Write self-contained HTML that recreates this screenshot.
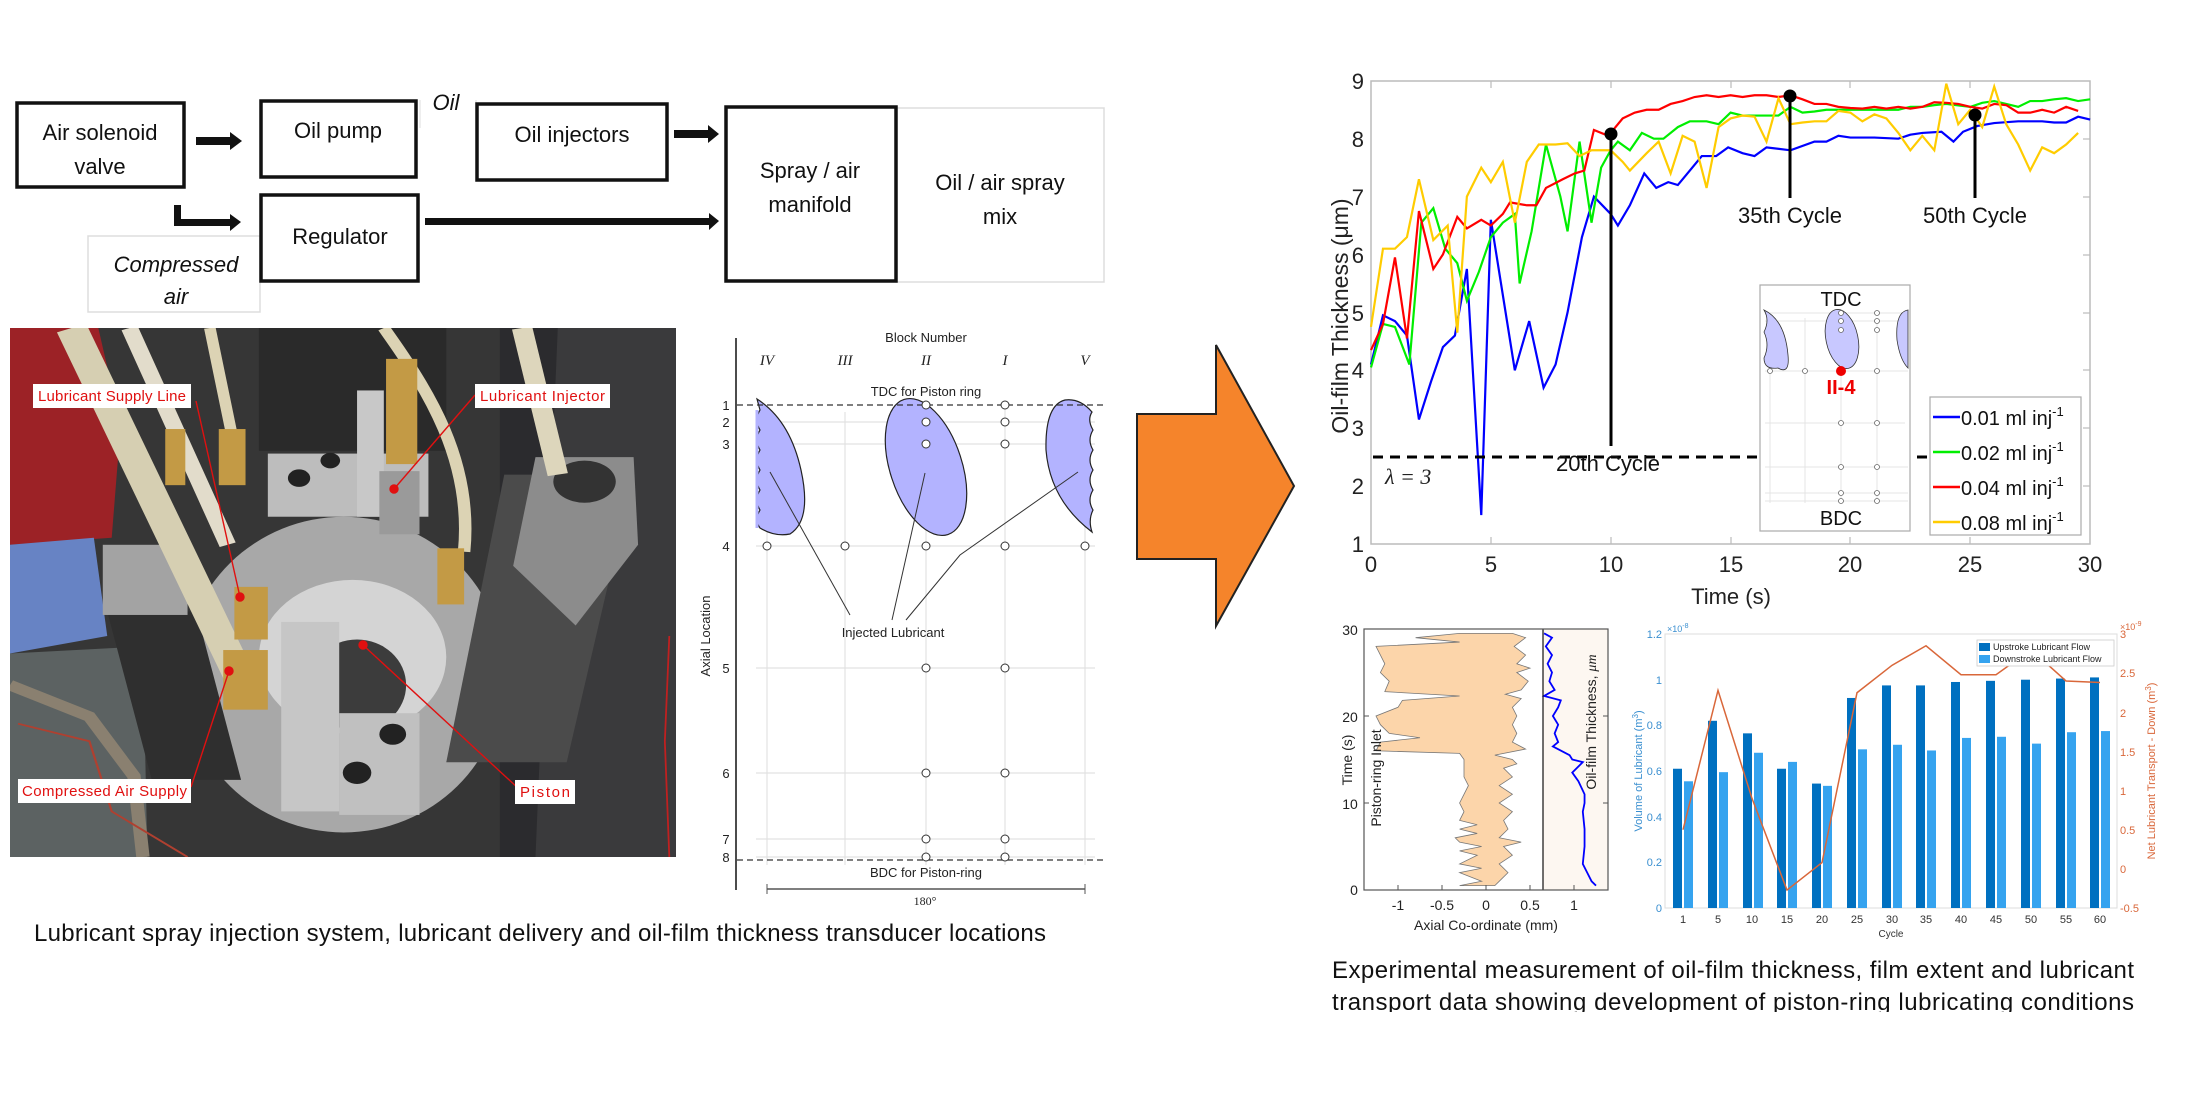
<!DOCTYPE html>
<html><head><meta charset="utf-8"><style>
html,body{margin:0;padding:0;background:#fff;}
svg{display:block;font-family:"Liberation Sans",sans-serif;}
</style></head><body>
<svg width="2200" height="1120" viewBox="0 0 2200 1120" xmlns="http://www.w3.org/2000/svg">
<rect width="2200" height="1120" fill="#fff"/>

<!-- ===== Flow diagram ===== -->
<g font-size="22" fill="#111" text-anchor="middle">
<rect x="88" y="236" width="172" height="76" fill="#fff" stroke="#ddd" stroke-width="1.5"/>
<text x="176" y="272" font-style="italic">Compressed</text><text x="176" y="304" font-style="italic">air</text>
<rect x="896" y="108" width="208" height="174" fill="#fff" stroke="#ddd" stroke-width="1.5"/>
<text x="1000" y="190">Oil / air spray</text><text x="1000" y="224">mix</text>
<line x1="420" y1="100" x2="420" y2="128" stroke="#ddd"/><line x1="476" y1="100" x2="476" y2="128" stroke="#ddd"/>
<text x="446" y="110" font-style="italic">Oil</text>
<rect x="17" y="103" width="167" height="84" fill="#fff" stroke="#111" stroke-width="3.5"/>
<text x="100" y="140">Air solenoid</text><text x="100" y="174">valve</text>
<rect x="261" y="101" width="155" height="76" fill="#fff" stroke="#111" stroke-width="3.5"/>
<text x="338" y="138">Oil pump</text>
<rect x="477" y="104" width="190" height="76" fill="#fff" stroke="#111" stroke-width="3.5"/>
<text x="572" y="142">Oil injectors</text>
<rect x="726" y="107" width="170" height="174" fill="#fff" stroke="#111" stroke-width="3.5"/>
<text x="810" y="178">Spray / air</text><text x="810" y="212">manifold</text>
<rect x="261" y="195" width="157" height="86" fill="#fff" stroke="#111" stroke-width="3.5"/>
<text x="340" y="244">Regulator</text>
</g>
<g fill="#111">
<rect x="196" y="137" width="34" height="8"/><polygon points="230,132 242,141 230,150"/>
<rect x="174" y="205" width="7" height="21"/><rect x="174" y="219" width="56" height="7"/><polygon points="230,214 241,222 230,231"/>
<rect x="674" y="130" width="34" height="8"/><polygon points="708,125 719,134 708,143"/>
<rect x="425" y="218" width="285" height="7"/><polygon points="709,213 719,221 709,230"/>
</g>

<!-- ===== Photo ===== -->
<svg x="10" y="328" width="666" height="529" viewBox="22 22 1493 1508" preserveAspectRatio="none">
<rect x="22" y="22" width="1493" height="1508" fill="#363636"/>
<rect x="1120" y="22" width="395" height="1508" fill="#2b2b2e"/>
<polygon points="22,22 220,22 270,300 250,620 22,640" fill="#9c2226"/>
<polygon points="22,640 210,620 240,900 22,950" fill="#6783c4"/>
<polygon points="22,950 320,930 330,1530 22,1530" fill="#5c6262"/>
<polygon points="1250,22 1515,22 1515,1530 1200,1530" fill="#3a3a3c"/>
<rect x="580" y="22" width="420" height="350" fill="#2a2a2a"/>
<ellipse cx="770" cy="1010" rx="360" ry="450" fill="#a8a8a8"/>
<ellipse cx="790" cy="960" rx="210" ry="220" fill="#d4d4d4"/>
<ellipse cx="800" cy="1040" rx="110" ry="130" fill="#3c3c3c"/>
<rect x="600" y="380" width="360" height="180" fill="#bdbdbd"/>
<rect x="800" y="200" width="60" height="360" fill="#c8c8c8"/>
<rect x="850" y="430" width="90" height="180" fill="#9a9a9a"/>
<rect x="630" y="860" width="130" height="540" fill="#c6c6c6"/>
<rect x="760" y="1120" width="180" height="290" fill="#c0c0c0"/>
<circle cx="880" cy="1180" r="30" fill="#222"/><circle cx="800" cy="1290" r="32" fill="#222"/>
<circle cx="670" cy="450" r="25" fill="#222"/><circle cx="740" cy="400" r="22" fill="#222"/>
<polygon points="1130,440 1420,440 1270,1260 1000,1260" fill="#4b4b4b"/>
<polygon points="1200,390 1420,390 1430,640 1290,870 1150,700" fill="#8c8c8c"/>
<ellipse cx="1310" cy="460" rx="70" ry="60" fill="#333"/>
<polygon points="240,830 440,830 540,1310 340,1310" fill="#2f2f2f"/>
<rect x="230" y="640" width="190" height="200" fill="#a3a3a3"/>
<polyline points="22,1040 200,1130 300,1300 320,1530" fill="none" stroke="#8a8070" stroke-width="30"/>
<line x1="160" y1="22" x2="560" y2="1080" stroke="#d6cfb2" stroke-width="70"/>
<line x1="290" y1="22" x2="510" y2="640" stroke="#e2dccb" stroke-width="38"/>
<line x1="470" y1="22" x2="520" y2="330" stroke="#dcd3b4" stroke-width="26"/>
<path d="M860,22 C960,200 1060,400 1040,660" fill="none" stroke="#dcd3b4" stroke-width="28"/>
<line x1="1170" y1="22" x2="1250" y2="440" stroke="#ddd6bc" stroke-width="46"/>
<g fill="#c39a45">
<rect x="490" y="310" width="60" height="160"/><rect x="525" y="760" width="75" height="150"/>
<rect x="500" y="940" width="100" height="170"/><rect x="865" y="110" width="70" height="300"/>
<rect x="980" y="650" width="60" height="160"/><rect x="370" y="310" width="45" height="160"/>
</g>
<polyline points="40,1150 200,1200 250,1400 420,1530" fill="none" stroke="#b04030" stroke-width="5"/>
<polyline points="1500,900 1490,1200 1500,1530" fill="none" stroke="#c02020" stroke-width="4"/>
</svg>
<g stroke="#e01010" stroke-width="1.4" fill="#e01010">
<line x1="196" y1="401" x2="240" y2="597"/><circle cx="240" cy="597" r="4"/>
<line x1="475" y1="395" x2="394" y2="489"/><circle cx="394" cy="489" r="4"/>
<line x1="191" y1="787" x2="229" y2="671"/><circle cx="229" cy="671" r="4"/>
<line x1="519" y1="789" x2="363" y2="645"/><circle cx="363" cy="645" r="4"/>
</g>
<g font-size="15" fill="#e01010">
<rect x="33" y="384" width="158" height="24" fill="#fff"/><text x="38" y="401" textLength="148">Lubricant Supply Line</text>
<rect x="475" y="384" width="135" height="24" fill="#fff"/><text x="480" y="401" textLength="125">Lubricant Injector</text>
<rect x="18" y="779" width="173" height="24" fill="#fff"/><text x="22" y="796" textLength="165">Compressed Air Supply</text>
<rect x="515" y="780" width="60" height="24" fill="#fff"/><text x="520" y="797" textLength="50">Piston</text>
</g>

<!-- ===== Transducer schematic ===== -->
<g stroke="#e2e2e2" stroke-width="1.2">
<line x1="767" y1="412" x2="767" y2="865"/><line x1="845" y1="412" x2="845" y2="865"/>
<line x1="926" y1="405" x2="926" y2="865"/><line x1="1005" y1="405" x2="1005" y2="865"/><line x1="1085" y1="412" x2="1085" y2="865"/>
<line x1="756" y1="422" x2="1095" y2="422"/><line x1="756" y1="444" x2="1095" y2="444"/><line x1="756" y1="546" x2="1095" y2="546"/>
<line x1="756" y1="668" x2="1095" y2="668"/><line x1="756" y1="773" x2="1095" y2="773"/><line x1="756" y1="839" x2="1095" y2="839"/><line x1="756" y1="857" x2="1095" y2="857"/>
</g>
<g fill="#b3b3ff" stroke="#222" stroke-width="1.2">
<path d="M757,399 Q790,420 801,470 Q812,520 790,534 Q775,537 760,528 Q754,520 760,510 Q754,500 760,490 Q754,480 760,470 Q754,460 760,450 Q754,440 760,430 Q754,420 760,410 Z"/>
<ellipse cx="926" cy="467" rx="36" ry="71" transform="rotate(-18 926 467)"/>
<path d="M1092,412 Q1080,398 1065,400 Q1045,405 1046,450 Q1050,500 1092,532 Q1088,520 1093,510 Q1087,500 1093,490 Q1087,480 1093,470 Q1087,460 1093,450 Q1087,440 1093,430 Q1087,420 1092,412 Z"/>
</g>
<path d="M757,410 v118" stroke="#b3b3ff" stroke-width="3"/>
<line x1="737" y1="405" x2="1105" y2="405" stroke="#333" stroke-width="1.3" stroke-dasharray="6,4"/>
<line x1="737" y1="860" x2="1105" y2="860" stroke="#333" stroke-width="1.3" stroke-dasharray="6,4"/>
<line x1="736" y1="338" x2="736" y2="890" stroke="#111" stroke-width="1.5"/>
<g fill="none" stroke="#333" stroke-width="1">
<polyline points="770,472 850,615"/><polyline points="925,473 892,620"/><polyline points="1078,472 960,555 906,620"/>
</g>
<g fill="#fff" stroke="#333" stroke-width="1">
<circle cx="926" cy="405" r="4"/><circle cx="1005" cy="405" r="4"/>
<circle cx="926" cy="422" r="4"/><circle cx="1005" cy="422" r="4"/>
<circle cx="926" cy="444" r="4"/><circle cx="1005" cy="444" r="4"/>
<circle cx="767" cy="546" r="4"/><circle cx="845" cy="546" r="4"/><circle cx="926" cy="546" r="4"/><circle cx="1005" cy="546" r="4"/><circle cx="1085" cy="546" r="4"/>
<circle cx="926" cy="668" r="4"/><circle cx="1005" cy="668" r="4"/>
<circle cx="926" cy="773" r="4"/><circle cx="1005" cy="773" r="4"/>
<circle cx="926" cy="839" r="4"/><circle cx="1005" cy="839" r="4"/>
<circle cx="926" cy="857" r="4"/><circle cx="1005" cy="857" r="4"/>
</g>
<g font-size="13" fill="#222" text-anchor="middle">
<text x="926" y="342">Block Number</text>
<g font-family="Liberation Serif,serif" font-style="italic" font-size="15"><text x="767" y="365">IV</text><text x="845" y="365">III</text><text x="926" y="365">II</text><text x="1005" y="365">I</text><text x="1085" y="365">V</text></g>
<text x="926" y="396">TDC for Piston ring</text>
<text x="926" y="877">BDC for Piston-ring</text>
<text x="893" y="637">Injected Lubricant</text>
<text transform="translate(710,636) rotate(-90)">Axial Location</text>
<text x="726" y="410">1</text><text x="726" y="427">2</text><text x="726" y="449">3</text><text x="726" y="551">4</text>
<text x="726" y="673">5</text><text x="726" y="778">6</text><text x="726" y="844">7</text><text x="726" y="862">8</text>
<text x="925" y="905" font-family="Liberation Serif,serif" font-size="12">180°</text>
</g>
<line x1="767" y1="889" x2="1085" y2="889" stroke="#555" stroke-width="1.5"/>
<line x1="767" y1="884" x2="767" y2="894" stroke="#555"/><line x1="1085" y1="884" x2="1085" y2="894" stroke="#555"/>

<text x="34" y="941" font-size="24" fill="#111" textLength="1012">Lubricant spray injection system, lubricant delivery and oil-film thickness transducer locations</text>

<!-- ===== Orange arrow ===== -->
<polygon points="1137,414 1216,414 1216,345 1294,486 1216,626 1216,559 1137,559" fill="#f5842b" stroke="#222" stroke-width="2"/>

<!-- ===== Main chart ===== -->
<rect x="1371" y="81" width="719" height="463" fill="#fff" stroke="#bbb" stroke-width="1.5"/>
<g stroke="#bbb" stroke-width="1.2">
<line x1="1491" y1="544" x2="1491" y2="537"/><line x1="1611" y1="544" x2="1611" y2="537"/><line x1="1731" y1="544" x2="1731" y2="537"/><line x1="1850" y1="544" x2="1850" y2="537"/><line x1="1970" y1="544" x2="1970" y2="537"/>
<line x1="1491" y1="81" x2="1491" y2="88"/><line x1="1611" y1="81" x2="1611" y2="88"/><line x1="1731" y1="81" x2="1731" y2="88"/><line x1="1850" y1="81" x2="1850" y2="88"/><line x1="1970" y1="81" x2="1970" y2="88"/>
<line x1="2090" y1="139" x2="2083" y2="139"/><line x1="2090" y1="197" x2="2083" y2="197"/><line x1="2090" y1="255" x2="2083" y2="255"/><line x1="2090" y1="313" x2="2083" y2="313"/><line x1="2090" y1="370" x2="2083" y2="370"/><line x1="2090" y1="428" x2="2083" y2="428"/><line x1="2090" y1="486" x2="2083" y2="486"/>
</g>
<g font-size="22" fill="#222" text-anchor="middle">
<text x="1371" y="572">0</text><text x="1491" y="572">5</text><text x="1611" y="572">10</text><text x="1731" y="572">15</text><text x="1850" y="572">20</text><text x="1970" y="572">25</text><text x="2090" y="572">30</text>
<text x="1731" y="604">Time (s)</text>
</g>
<g font-size="22" fill="#222" text-anchor="end">
<text x="1364" y="552">1</text><text x="1364" y="494">2</text><text x="1364" y="436">3</text><text x="1364" y="378">4</text><text x="1364" y="321">5</text><text x="1364" y="263">6</text><text x="1364" y="205">7</text><text x="1364" y="147">8</text><text x="1364" y="89">9</text>
</g>
<text transform="translate(1348,316) rotate(-90)" font-size="23" fill="#222" text-anchor="middle">Oil-film Thickness (μm)</text>

<g transform="translate(1371,544) scale(23.97,-57.9) translate(0,-1)" fill="none" stroke-width="2.2">
<polyline vector-effect="non-scaling-stroke" stroke="#0000ff" points="0,4.1 0.5,4.95 1,4.85 1.5,4.6 2,3.15 2.5,3.8 3,4.4 3.5,4.6 4,5.75 4.6,1.5 5,6.6 6,4 6.6,4.85 7.2,3.7 7.7,4.1 8.2,5 8.8,6.3 9.3,7 10,6.7 10.3,6.5 10.8,6.85 11.4,7.4 11.9,7.15 12.4,7.25 12.8,7.2 13.4,7.5 13.8,7.7 14.4,7.7 14.9,7.85 15.5,7.75 16,7.7 16.5,7.85 17.5,7.8 18.5,7.95 19,7.95 19.5,8.05 20,8.02 21,8.02 22,8 22.5,8.07 23,8.1 23.8,8.12 24.3,7.95 24.7,8.12 25.3,8.22 26,8.27 27,8.3 28,8.3 28.5,8.28 29,8.28 29.5,8.38 30,8.33"/>
<polyline vector-effect="non-scaling-stroke" stroke="#00ee00" points="0,4.05 0.5,4.8 1,4.75 1.6,4.1 2.1,6.55 2.6,6.8 3.1,6.1 3.6,5.85 4,5.2 4.5,5.7 5,6.3 5.5,6.55 6,6.7 6.2,5.5 6.7,6.4 7.3,7.9 7.9,7 8.2,6.4 8.7,7.95 9.2,6.55 9.6,7.5 10,7.8 10.3,7.95 10.8,7.8 11.3,8.1 11.8,8 12.2,8 12.8,8.2 13.3,8.3 14,8.3 14.5,8.25 15,8.45 15.5,8.4 16,8.4 16.5,8.4 17,8.4 17.5,8.55 18,8.45 18.5,8.47 19,8.5 20,8.5 21,8.5 22,8.5 22.5,8.55 23,8.55 23.5,8.58 24,8.6 25,8.55 25.5,8.62 26,8.65 26.5,8.6 27,8.55 27.5,8.65 28,8.65 28.5,8.68 29,8.7 29.5,8.65 30,8.68"/>
<polyline vector-effect="non-scaling-stroke" stroke="#ff0000" points="0,4.35 0.5,4.8 1,5.95 1.5,4.55 2,6.75 2.6,5.75 3,6 3.6,6.65 4,6.45 4.6,6.6 5,6.5 5.5,6.7 5.8,6.9 6.5,6.85 6.9,6.85 7.3,7.15 8,7.3 8.5,7.4 8.9,7.45 9.3,8.15 9.9,8.05 10.5,8.35 11,8.45 11.5,8.5 12,8.5 12.5,8.6 13,8.65 13.5,8.72 14,8.75 14.5,8.72 15,8.75 15.5,8.72 16,8.75 16.5,8.75 17,8.72 17.5,8.75 18,8.68 18.5,8.6 19,8.6 19.5,8.55 20,8.53 20.5,8.52 21,8.55 21.5,8.52 22,8.55 22.5,8.52 23,8.55 23.5,8.63 24,8.62 24.5,8.6 25,8.55 25.5,8.52 26,8.6 26.5,8.58 27,8.45 27.5,8.45 28,8.5 28.5,8.45 29,8.55 29.5,8.48"/>
<polyline vector-effect="non-scaling-stroke" stroke="#ffcc00" points="0,4.75 0.5,6.1 1,6.1 1.5,6.3 2,7.3 2.6,6.25 3.2,6.5 3.6,4.65 4,7 4.6,7.5 5,7.25 5.5,7.6 6,6.55 6.5,7.6 7,7.9 7.7,7.9 8.2,7.92 8.7,7.7 9.2,7.8 10,7.8 10.5,7.6 10.8,7.45 11.5,7.75 12,7.95 12.5,7.4 13,8.05 13.5,7.95 14,7.15 14.5,8.2 15,8.35 15.5,8.4 16,8.38 16.5,7.95 17,8.7 17.5,8.25 18,8.28 18.5,8.3 19,8.3 19.5,8.48 20,8.45 20.5,8.3 21,8.42 21.5,8.35 22,8.1 22.5,7.8 23,8.05 23.5,7.8 24,8.95 24.5,8.25 25,8.5 25.5,8.2 26,8.9 26.5,8.25 27,7.9 27.5,7.45 28,7.85 28.5,7.75 29,7.9 29.5,8.1"/>
</g>
<line x1="1373" y1="457" x2="1930" y2="457" stroke="#000" stroke-width="3" stroke-dasharray="10,7"/>
<text x="1385" y="484" font-family="Liberation Serif,serif" font-style="italic" font-size="22" fill="#222">λ = 3</text>
<g stroke="#000" stroke-width="3">
<line x1="1611" y1="134" x2="1611" y2="446"/><line x1="1790" y1="96" x2="1790" y2="198"/><line x1="1975" y1="115" x2="1975" y2="198"/>
</g>
<g fill="#000"><circle cx="1611" cy="134" r="6.5"/><circle cx="1790" cy="96" r="6.5"/><circle cx="1975" cy="115" r="6.5"/></g>
<g font-size="22" fill="#111" text-anchor="middle">
<text x="1608" y="471">20th Cycle</text><text x="1790" y="223">35th Cycle</text><text x="1975" y="223">50th Cycle</text>
</g>
<!-- inset -->
<rect x="1760" y="285" width="150" height="246" fill="#fff" stroke="#aaa" stroke-width="1.2"/>
<g stroke="#e4e4e4" stroke-width="1">
<line x1="1765" y1="313" x2="1908" y2="313"/><line x1="1765" y1="321" x2="1908" y2="321"/><line x1="1765" y1="371" x2="1908" y2="371"/><line x1="1765" y1="423" x2="1905" y2="423"/><line x1="1765" y1="467" x2="1908" y2="467"/><line x1="1765" y1="493" x2="1908" y2="493"/><line x1="1765" y1="501" x2="1908" y2="501"/>
<line x1="1805" y1="318" x2="1805" y2="503"/><line x1="1841" y1="318" x2="1841" y2="503"/><line x1="1877" y1="318" x2="1877" y2="503"/><line x1="1770" y1="350" x2="1770" y2="503"/>
</g>
<g fill="#c8c8ff" stroke="#333" stroke-width="0.8">
<path d="M1764,310 Q1785,320 1788,355 Q1790,375 1778,368 Q1764,370 1764,358 Q1770,345 1764,332 Q1770,320 1764,310Z"/>
<ellipse cx="1842" cy="339" rx="16" ry="30" transform="rotate(-12 1842 339)"/>
<path d="M1908,310 Q1895,312 1897,340 Q1900,360 1908,368Z"/>
</g>
<g fill="#fff" stroke="#666" stroke-width="0.8">
<circle cx="1841" cy="313" r="2.5"/><circle cx="1877" cy="313" r="2.5"/><circle cx="1841" cy="321" r="2.5"/><circle cx="1877" cy="321" r="2.5"/><circle cx="1841" cy="330" r="2.5"/><circle cx="1877" cy="330" r="2.5"/>
<circle cx="1770" cy="371" r="2.5"/><circle cx="1805" cy="371" r="2.5"/><circle cx="1877" cy="371" r="2.5"/>
<circle cx="1841" cy="423" r="2.5"/><circle cx="1877" cy="423" r="2.5"/><circle cx="1841" cy="467" r="2.5"/><circle cx="1877" cy="467" r="2.5"/>
<circle cx="1841" cy="493" r="2.5"/><circle cx="1877" cy="493" r="2.5"/><circle cx="1841" cy="501" r="2.5"/><circle cx="1877" cy="501" r="2.5"/>
</g>
<circle cx="1841" cy="371" r="5" fill="#e00"/>
<g font-size="20" text-anchor="middle">
<text x="1841" y="306" fill="#111">TDC</text><text x="1841" y="394" fill="#e00" font-weight="bold">II-4</text><text x="1841" y="525" fill="#111">BDC</text>
</g>
<!-- legend -->
<rect x="1930" y="397" width="151" height="138" fill="#fff" stroke="#aaa" stroke-width="1.2"/>
<g stroke-width="2.5"><line x1="1933" y1="417" x2="1960" y2="417" stroke="#00f"/><line x1="1933" y1="452" x2="1960" y2="452" stroke="#0e0"/><line x1="1933" y1="487" x2="1960" y2="487" stroke="#f00"/><line x1="1933" y1="522" x2="1960" y2="522" stroke="#fc0"/></g>
<g font-size="20" fill="#111">
<text x="1961" y="425">0.01 ml inj<tspan font-size="13" dy="-9">-1</tspan></text>
<text x="1961" y="460">0.02 ml inj<tspan font-size="13" dy="-9">-1</tspan></text>
<text x="1961" y="495">0.04 ml inj<tspan font-size="13" dy="-9">-1</tspan></text>
<text x="1961" y="530">0.08 ml inj<tspan font-size="13" dy="-9">-1</tspan></text>
</g>

<!-- ===== Bottom-left film extent ===== -->
<rect x="1543" y="629" width="65" height="261" fill="#fdf7f1"/>
<polygon fill="#fcd5aa" stroke="#777" stroke-width="0.8" transform="translate(1486,890) scale(88,-8.7)" vector-effect="non-scaling-stroke" points="-0.3,0.5 -0.05,1 -0.3,2 -0.05,2.5 -0.3,3 -0.1,4 -0.3,4.5 -0.05,5 -0.3,5.5 -0.35,6 -0.1,6.5 -0.3,7 -0.1,7.5 -0.3,8 -0.25,9 -0.3,10 -0.25,11 -0.2,12 -0.25,13 -0.25,14 -0.25,15 -0.3,15.7 -1.25,16 -1.2,17 -0.75,17.5 -1.1,18 -1.2,19 -1.25,20 -1,21 -0.95,21.8 -0.3,22.3 -1.15,22.8 -1.1,24 -1.2,25 -1.15,26 -1.2,27 -1.25,28 -0.3,28.5 -0.8,29 -0.3,29.5 0.3,29.5 0.45,29 0.32,28 0.45,27 0.35,26 0.5,25.5 0.35,25 0.48,24 0.4,23 0.22,22.5 0.4,22 0.3,21 0.35,20 0.3,19 0.35,18 0.3,17 0.45,16.2 0.1,15.5 0.3,15 0.35,14.5 0.2,14 0.3,13 0.15,12 0.3,11 0.15,10 0.3,9 0.2,8 0.25,7 0.15,6 0.4,5.5 0.2,5 0.3,4 0.15,3 0.25,2 0.15,1 0.1,0.5"/>
<polyline fill="none" stroke="#0000ff" stroke-width="1.8" transform="translate(1486,890) scale(88,-8.7)" vector-effect="non-scaling-stroke" points="0.66,29.5 0.75,29 0.68,28 0.75,27 0.7,26 0.75,25 0.72,24 0.78,23 0.66,22.3 0.85,21.8 0.82,21 0.76,20 0.82,19 0.78,18 0.82,17 0.76,16.5 0.95,15.5 0.98,15 1.1,14.7 0.98,13.5 1.05,12.5 1.12,11 1.12,10 1.1,9 1.12,7 1.12,5 1.1,3 1.15,2 1.2,1 1.25,0.5"/>
<line x1="1543" y1="629" x2="1543" y2="890" stroke="#111" stroke-width="1.2"/>
<rect x="1364" y="629" width="244" height="261" fill="none" stroke="#555" stroke-width="1.2"/>
<g stroke="#555" stroke-width="1"><line x1="1398" y1="890" x2="1398" y2="885"/><line x1="1442" y1="890" x2="1442" y2="885"/><line x1="1486" y1="890" x2="1486" y2="885"/><line x1="1530" y1="890" x2="1530" y2="885"/><line x1="1574" y1="890" x2="1574" y2="885"/>
<line x1="1364" y1="716" x2="1369" y2="716"/><line x1="1364" y1="803" x2="1369" y2="803"/><line x1="1608" y1="716" x2="1603" y2="716"/><line x1="1608" y1="803" x2="1603" y2="803"/></g>
<g font-size="14" fill="#222" text-anchor="middle">
<text x="1398" y="910">-1</text><text x="1442" y="910">-0.5</text><text x="1486" y="910">0</text><text x="1530" y="910">0.5</text><text x="1574" y="910">1</text>
<text x="1486" y="930">Axial Co-ordinate (mm)</text>
<text x="1350" y="635">30</text><text x="1350" y="722">20</text><text x="1350" y="809">10</text><text x="1354" y="895">0</text>
<text transform="translate(1352,760) rotate(-90)">Time (s)</text>
<text transform="translate(1381,778) rotate(-90)">Piston-ring Inlet</text>
<text transform="translate(1596,722) rotate(-90)">Oil-film Thickness, <tspan font-style="italic" font-family="Liberation Serif,serif">μm</tspan></text>
</g>

<!-- ===== Bar chart ===== -->
<rect x="1665" y="634" width="452" height="274" fill="#fff" stroke="#ddd" stroke-width="1"/>
<g transform="translate(0,908) scale(1,-228.3)">
<g fill="#0070c0">
<rect x="1673" y="0" width="9" height="0.61"/><rect x="1708" y="0" width="9" height="0.82"/><rect x="1743" y="0" width="9" height="0.765"/><rect x="1777" y="0" width="9" height="0.61"/><rect x="1812" y="0" width="9" height="0.545"/><rect x="1847" y="0" width="9" height="0.92"/><rect x="1882" y="0" width="9" height="0.975"/><rect x="1916" y="0" width="9" height="0.975"/><rect x="1951" y="0" width="9" height="0.99"/><rect x="1986" y="0" width="9" height="0.995"/><rect x="2021" y="0" width="9" height="1.0"/><rect x="2056" y="0" width="9" height="1.005"/><rect x="2090" y="0" width="9" height="1.01"/>
</g>
<g fill="#35a3ef">
<rect x="1684" y="0" width="9" height="0.555"/><rect x="1719" y="0" width="9" height="0.595"/><rect x="1754" y="0" width="9" height="0.68"/><rect x="1788" y="0" width="9" height="0.64"/><rect x="1823" y="0" width="9" height="0.535"/><rect x="1858" y="0" width="9" height="0.695"/><rect x="1893" y="0" width="9" height="0.715"/><rect x="1927" y="0" width="9" height="0.69"/><rect x="1962" y="0" width="9" height="0.745"/><rect x="1997" y="0" width="9" height="0.75"/><rect x="2032" y="0" width="9" height="0.72"/><rect x="2067" y="0" width="9" height="0.77"/><rect x="2101" y="0" width="9" height="0.775"/>
</g>
</g>
<polyline fill="none" stroke="#d9673a" stroke-width="1.5" transform="translate(0,868.9) scale(1,-78.3)" vector-effect="non-scaling-stroke" points="1683,0.5 1718,2.28 1752,0.9 1787,-0.27 1822,0.08 1857,2.25 1892,2.6 1926,2.85 1961,2.48 1996,2.48 2031,2.8 2066,2.4 2100,2.38"/>
<rect x="1977" y="640" width="137" height="26" fill="#fff" stroke="#ccc" stroke-width="0.8"/>
<rect x="1979" y="643" width="11" height="8" fill="#0070c0"/><rect x="1979" y="655" width="11" height="8" fill="#35a3ef"/>
<g font-size="9" fill="#222"><text x="1993" y="650">Upstroke Lubricant Flow</text><text x="1993" y="662">Downstroke Lubricant Flow</text></g>
<g font-size="11" fill="#3a8fd0" text-anchor="end">
<text x="1662" y="912">0</text><text x="1662" y="866">0.2</text><text x="1662" y="821">0.4</text><text x="1662" y="775">0.6</text><text x="1662" y="729">0.8</text><text x="1662" y="684">1</text><text x="1662" y="638">1.2</text>
</g>
<text x="1667" y="632" font-size="9" fill="#3a8fd0">×10<tspan font-size="7" dy="-4">-8</tspan></text>
<text transform="translate(1642,771) rotate(-90)" font-size="11" fill="#3a8fd0" text-anchor="middle">Volume of Lubricant (m<tspan font-size="8" dy="-4">3</tspan><tspan dy="4">)</tspan></text>
<g font-size="11" fill="#d9673a">
<text x="2120" y="912">-0.5</text><text x="2120" y="873">0</text><text x="2120" y="834">0.5</text><text x="2120" y="795">1</text><text x="2120" y="756">1.5</text><text x="2120" y="717">2</text><text x="2120" y="677">2.5</text><text x="2120" y="638">3</text>
<text x="2120" y="630" font-size="9">×10<tspan font-size="7" dy="-4">-9</tspan></text>
</g>
<text transform="translate(2155,771) rotate(-90)" font-size="11" fill="#d9673a" text-anchor="middle">Net Lubricant Transport - Down (m<tspan font-size="8" dy="-4">3</tspan><tspan dy="4">)</tspan></text>
<g font-size="11" fill="#333" text-anchor="middle">
<text x="1683" y="923">1</text><text x="1718" y="923">5</text><text x="1752" y="923">10</text><text x="1787" y="923">15</text><text x="1822" y="923">20</text><text x="1857" y="923">25</text><text x="1892" y="923">30</text><text x="1926" y="923">35</text><text x="1961" y="923">40</text><text x="1996" y="923">45</text><text x="2031" y="923">50</text><text x="2066" y="923">55</text><text x="2100" y="923">60</text>
<text x="1891" y="937" font-size="10">Cycle</text>
</g>

<!-- right caption -->
<text x="1332" y="978" font-size="24" fill="#111" textLength="802">Experimental measurement of oil-film thickness, film extent and lubricant</text>
<svg x="1300" y="985" width="900" height="27"><text x="32" y="25" font-size="24" fill="#111" textLength="802">transport data showing development of piston-ring lubricating conditions</text></svg>
</svg>
</body></html>
